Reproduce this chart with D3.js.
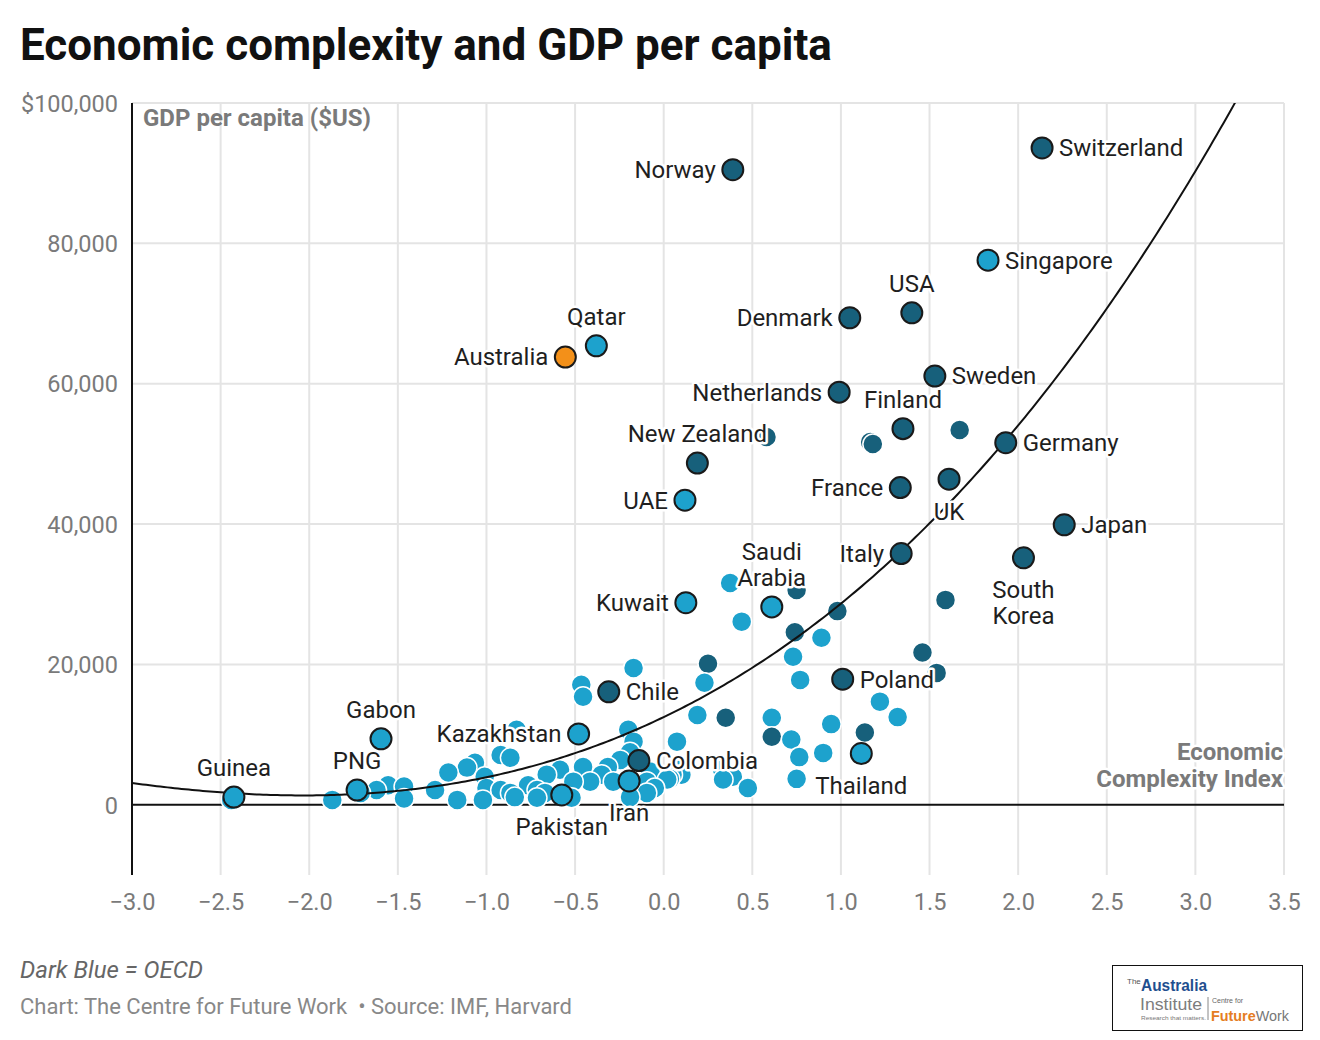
<!DOCTYPE html>
<html>
<head>
<meta charset="utf-8">
<script src="https://cdn.jsdelivr.net/npm/d3@7"></script>
<style>
  html, body { margin: 0; padding: 0; background: #fff; }
  svg { display: block; font-family: Roboto, "Noto Sans", sans-serif; }
</style>
</head>
<body>
<svg id="chart" width="1320" height="1040"></svg>
<script>
// ---------------- DATA ----------------
// Labelled countries: name, economic complexity index, GDP per capita (US$ thousands), group
const labelledNames = ["Switzerland","Norway","Singapore","USA","Denmark","Qatar","Australia","Sweden","Netherlands","Finland","Germany","New Zealand","UK","France","UAE","Japan","Italy","South Korea","Kuwait","Saudi Arabia","Poland","Chile","Gabon","Kazakhstan","Colombia","Thailand","Iran","PNG","Pakistan","Guinea"];
const labelledECI   = [2.135, 0.39, 1.83, 1.40, 1.05, -0.38, -0.555, 1.53, 0.99, 1.35, 1.93, 0.19, 1.61, 1.335, 0.12, 2.26, 1.34, 2.03, 0.125, 0.61, 1.01, -0.31, -1.595, -0.48, -0.14, 1.115, -0.195, -1.73, -0.575, -2.425];
const labelledGDP   = [93.6, 90.5, 77.6, 70.1, 69.4, 65.4, 63.8, 61.1, 58.8, 53.6, 51.6, 48.7, 46.4, 45.2, 43.4, 39.9, 35.8, 35.2, 28.8, 28.2, 17.9, 16.1, 9.4, 10.1, 6.3, 7.3, 3.4, 2.1, 1.4, 1.1];
const labelledGroup = ["oecd","oecd","other","oecd","oecd","other","australia","oecd","oecd","oecd","oecd","oecd","oecd","oecd","other","oecd","oecd","oecd","other","other","oecd","oecd","other","other","oecd","other","other","other","other","other"];

// Unlabelled OECD members
const oecdECI = [0.58, 1.165, 1.18, 1.67, 0.75, 0.98, 0.74, 0.25, 1.59, 1.46, 1.54, 0.35, 0.61, 1.135];
const oecdGDP = [52.4, 51.7, 51.4, 53.4, 30.6, 27.6, 24.6, 20.1, 29.2, 21.7, 18.8, 12.4, 9.7, 10.3];

// Unlabelled other countries
const otherECI = [0.375, 0.44, 0.89, 0.73, 0.77, 0.23, -0.17, -0.465, -0.455, 1.22, 1.32, 0.19, 0.61, 0.945, 0.72, -0.20, -0.17, 0.075, 0.765, 0.90, 0.75, 0.475, 0.33, 0.335, 0.39, 0.035, 0.075, 0.10, -0.095, -0.095, 0.05, -0.19, -0.245, -0.315, -0.35, -0.285, -0.415, -0.455, -0.51, -0.585, -0.66, -0.67, -0.52, -0.19, -0.545, -0.715, -0.715, -0.765, -0.84, -0.865, -0.92, -1.02, -1.0, -1.01, -0.865, -0.92, -0.83, -1.065, -1.11, -1.215, -1.165, -1.29, -1.465, -1.465, -1.555, -1.62, -1.71, -1.87, -2.44, -0.075, -0.05, 0.02];
const otherGDP = [31.6, 26.1, 23.8, 21.1, 17.8, 17.4, 19.5, 17.1, 15.4, 14.7, 12.5, 12.8, 12.4, 11.5, 9.3, 10.7, 9.0, 9.0, 6.8, 7.4, 3.7, 2.4, 5.0, 3.6, 4.0, 3.7, 5.0, 4.3, 1.7, 3.3, 4.3, 7.5, 6.4, 5.4, 4.3, 3.3, 3.3, 5.4, 3.3, 5.0, 4.3, 1.7, 1.0, 1.1, 1.1, 2.1, 1.0, 2.8, 1.1, 1.7, 2.1, 0.7, 2.4, 4.0, 6.7, 7.1, 10.7, 6.0, 5.3, 4.6, 0.7, 2.1, 2.6, 0.9, 2.8, 2.1, 1.7, 0.7, 0.7, 4.7, 2.4, 3.6];

// Cubic trend line coefficients (GDP thousands = c0 + c1*x + c2*x^2 + c3*x^3)
const trendCoefficients = [12.5, 12.1, 3.8, 0.27];

// Axis ticks
const xTickValues = [-3.0, -2.5, -2.0, -1.5, -1.0, -0.5, 0.0, 0.5, 1.0, 1.5, 2.0, 2.5, 3.0, 3.5];
const xTickLabels = ["−3.0","−2.5","−2.0","−1.5","−1.0","−0.5","0.0","0.5","1.0","1.5","2.0","2.5","3.0","3.5"];
const yTickValues = [0, 20, 40, 60, 80, 100];
const yTickLabels = ["0","20,000","40,000","60,000","80,000","$100,000"];

// Label placement (style only)
const labelSide = {
  "Switzerland":"right","Norway":"left","Singapore":"right","USA":"top","Denmark":"left","Qatar":"top",
  "Australia":"left","Sweden":"right","Netherlands":"left","Finland":"top","Germany":"right",
  "New Zealand":"top","UK":"bottom","France":"left","UAE":"left","Japan":"right","Italy":"left",
  "South Korea":"bottom","Kuwait":"left","Saudi Arabia":"top","Poland":"right","Chile":"right",
  "Gabon":"top","Kazakhstan":"left","Colombia":"right","Thailand":"bottom","Iran":"bottom",
  "PNG":"top","Pakistan":"bottom","Guinea":"top"
};
const labelLines = { "South Korea": ["South","Korea"], "Saudi Arabia": ["Saudi","Arabia"] };

// ---------------- CHART ----------------
const colors = { oecd: "#17607b", other: "#1da2cd", australia: "#f39019" };
const svg = d3.select("#chart");
const W = 1320, H = 1040;
const plot = { left: 132, right: 1284, top: 103, bottom: 875 };

const x = d3.scaleLinear().domain([-3, 3.5]).range([plot.left, plot.right]);
const y = d3.scaleLinear().domain([-10, 100]).range([plot.bottom, plot.top]);

svg.append("rect").attr("width", W).attr("height", H).attr("fill", "#fff");

// Title
svg.append("text").attr("x", 20).attr("y", 60)
  .attr("font-size", 44).attr("font-weight", 700).attr("fill", "#111")
  .text("Economic complexity and GDP per capita");

// Grid
const grid = svg.append("g");
grid.selectAll("line.v").data(xTickValues.filter(v => v > -3)).join("line")
  .attr("x1", d => x(d)).attr("x2", d => x(d))
  .attr("y1", plot.top).attr("y2", plot.bottom)
  .attr("stroke", "#e4e4e4").attr("stroke-width", 2);
grid.selectAll("line.h").data(yTickValues.filter(v => v > 0)).join("line")
  .attr("x1", plot.left).attr("x2", plot.right)
  .attr("y1", d => y(d)).attr("y2", d => y(d))
  .attr("stroke", "#e4e4e4").attr("stroke-width", 2);

// Axes via d3 axis generators (labels only), then styled
const xAxis = d3.axisBottom(x).tickValues(xTickValues).tickFormat((d, i) => xTickLabels[i]).tickSize(0).tickPadding(0);
const gx = svg.append("g").attr("transform", `translate(0,${plot.bottom + 27})`).call(xAxis);
gx.select(".domain").remove();
gx.selectAll("text").attr("font-size", 23.5).attr("fill", "#7a7a7a").attr("font-family", "Roboto, sans-serif").attr("dy", "0.35em").attr("y", 0);

const yAxis = d3.axisLeft(y).tickValues(yTickValues).tickFormat((d, i) => yTickLabels[i]).tickSize(0).tickPadding(14);
const gy = svg.append("g").attr("transform", `translate(${plot.left},0)`).call(yAxis);
gy.select(".domain").remove();
gy.selectAll("text").attr("font-size", 23.5).attr("fill", "#7a7a7a").attr("font-family", "Roboto, sans-serif").attr("dy", "0.35em");

// Zero line and left axis line
svg.append("line").attr("x1", plot.left).attr("x2", plot.right).attr("y1", y(0)).attr("y2", y(0))
  .attr("stroke", "#111").attr("stroke-width", 2);
svg.append("line").attr("x1", plot.left).attr("x2", plot.left).attr("y1", plot.top).attr("y2", plot.bottom)
  .attr("stroke", "#111").attr("stroke-width", 2);

// Axis titles
svg.append("text").attr("x", 143).attr("y", 118).attr("dy", "0.35em")
  .attr("font-size", 24).attr("font-weight", 700).attr("fill", "#7a7a7a")
  .text("GDP per capita ($US)");
const xt = svg.append("g").attr("font-size", 24).attr("font-weight", 700).attr("fill", "#7a7a7a")
  .attr("text-anchor", "end").attr("stroke", "#fff").attr("stroke-width", 5).attr("paint-order", "stroke").attr("stroke-linejoin", "round");
xt.append("text").attr("x", 1283).attr("y", 752).attr("dy", "0.35em").text("Economic");
xt.append("text").attr("x", 1283).attr("y", 779).attr("dy", "0.35em").text("Complexity Index");

// Clip for plot
svg.append("clipPath").attr("id", "plotclip").append("rect")
  .attr("x", plot.left).attr("y", plot.top).attr("width", plot.right - plot.left).attr("height", plot.bottom - plot.top);

// Unlabelled points
const unl = [];
otherECI.forEach((v, i) => unl.push({ eci: v, gdp: otherGDP[i], group: "other" }));
oecdECI.forEach((v, i) => unl.push({ eci: v, gdp: oecdGDP[i], group: "oecd" }));
unl.sort((a, b) => b.gdp - a.gdp);

svg.append("g").selectAll("circle").data(unl).join("circle")
  .attr("cx", d => x(d.eci)).attr("cy", d => y(d.gdp)).attr("r", 10)
  .attr("fill", d => colors[d.group]).attr("stroke", "#fff").attr("stroke-width", 1.5);

// Trend line
const trendX = d3.range(-3, 3.5001, 0.02);
const poly = v => trendCoefficients.reduce((s, c, k) => s + c * Math.pow(v, k), 0);
svg.append("path").datum(trendX)
  .attr("clip-path", "url(#plotclip)")
  .attr("d", d3.line().x(d => x(d)).y(d => y(poly(d))))
  .attr("fill", "none").attr("stroke", "#111").attr("stroke-width", 2);

// Labelled points
const lab = labelledNames.map((n, i) => ({ name: n, eci: labelledECI[i], gdp: labelledGDP[i], group: labelledGroup[i] }));
svg.append("g").selectAll("circle").data(lab).join("circle")
  .attr("cx", d => x(d.eci)).attr("cy", d => y(d.gdp)).attr("r", 10.5)
  .attr("fill", d => colors[d.group]).attr("stroke", "#1a1a1a").attr("stroke-width", 2);

// Labels
const lg = svg.append("g").attr("font-size", 24).attr("fill", "#1f1f1f")
  .attr("stroke", "#fff").attr("stroke-width", 5).attr("paint-order", "stroke").attr("stroke-linejoin", "round");
lab.forEach(d => {
  const side = labelSide[d.name];
  const lines = labelLines[d.name] || [d.name];
  const cx = x(d.eci), cy = y(d.gdp);
  const lh = 26;
  lines.forEach((t, k) => {
    let tx = cx, ty = cy, anchor = "middle";
    if (side === "right") { tx = cx + 17; anchor = "start"; }
    else if (side === "left") { tx = cx - 17; anchor = "end"; }
    else if (side === "top") { ty = cy - 29 - (lines.length - 1 - k) * lh; }
    else if (side === "bottom") { ty = cy + 32 + k * lh; }
    lg.append("text").attr("x", tx).attr("y", ty).attr("dy", "0.35em")
      .attr("text-anchor", anchor).text(t);
  });
});

// Footer
svg.append("text").attr("x", 20).attr("y", 978).attr("font-size", 24).attr("font-style", "italic")
  .attr("fill", "#666").text("Dark Blue = OECD");
svg.append("text").attr("x", 20).attr("y", 1014).attr("font-size", 22).attr("fill", "#888")
  .attr("xml:space", "preserve").text("Chart: The Centre for Future Work  • Source: IMF, Harvard");

// Logo
const logoFont = "'Liberation Sans Narrow', 'Liberation Sans', sans-serif";
const logo = svg.append("g").attr("font-family", logoFont);
logo.append("rect").attr("x", 1112.5).attr("y", 965.5).attr("width", 190).attr("height", 65)
  .attr("fill", "#fff").attr("stroke", "#111").attr("stroke-width", 1);
logo.append("text").attr("x", 1127).attr("y", 984).attr("font-size", 8).attr("fill", "#555").text("The");
logo.append("text").attr("x", 1141).attr("y", 991).attr("font-size", 16).attr("font-weight", 700).attr("fill", "#1f4f8f")
  .attr("textLength", 66).attr("lengthAdjust", "spacingAndGlyphs").text("Australia");
logo.append("text").attr("x", 1140).attr("y", 1010).attr("font-size", 17).attr("fill", "#7d7d7d")
  .attr("textLength", 62).attr("lengthAdjust", "spacingAndGlyphs").text("Institute");
logo.append("text").attr("x", 1141).attr("y", 1020).attr("font-size", 6).attr("fill", "#777")
  .attr("textLength", 65).attr("lengthAdjust", "spacingAndGlyphs").text("Research that matters.");
logo.append("line").attr("x1", 1208).attr("x2", 1208).attr("y1", 997).attr("y2", 1020).attr("stroke", "#888").attr("stroke-width", 1);
logo.append("text").attr("x", 1212).attr("y", 1003).attr("font-size", 7).attr("fill", "#666").text("Centre for");
const fw = logo.append("text").attr("x", 1211).attr("y", 1021).attr("font-size", 15)
  .attr("textLength", 78).attr("lengthAdjust", "spacingAndGlyphs");
fw.append("tspan").attr("fill", "#e57d22").attr("font-weight", 700).text("Future");
fw.append("tspan").attr("fill", "#777").text("Work");
</script>
</body>
</html>
